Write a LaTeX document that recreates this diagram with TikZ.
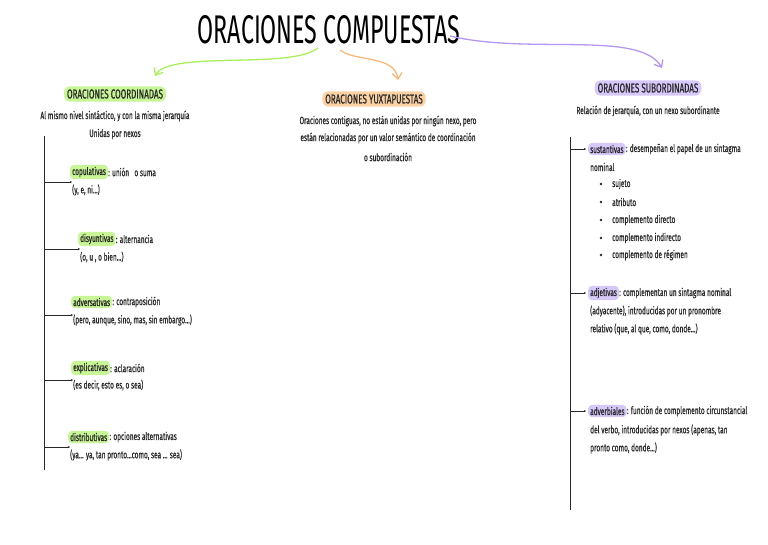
\documentclass[tikz,border=0pt]{standalone}
\usepackage{fontspec}
\setmainfont{Fira Sans}[FakeStretch=0.62,FakeBold=0.6]
\newfontfamily\titlefont{Fira Sans}[FakeStretch=0.58]
\usetikzlibrary{arrows.meta}
\definecolor{hgreen}{RGB}{200,245,150}
\definecolor{horange}{RGB}{252,210,165}
\definecolor{hpurple}{RGB}{215,200,250}
\definecolor{agreen}{RGB}{170,240,90}
\definecolor{aorange}{RGB}{252,185,120}
\definecolor{apurple}{RGB}{180,150,245}
\definecolor{txt}{RGB}{40,40,40}
\tikzset{
 t/.style={anchor=west,inner sep=0pt,font=\fontsize{10.5}{12}\selectfont,text=txt},
 tc/.style={inner sep=0pt,font=\fontsize{10.5}{12}\selectfont,text=txt},
 head/.style={inner sep=3pt,font=\fontsize{13}{14}\selectfont,text=txt,rounded corners=6pt},
 key/.style={t,inner sep=2pt,rounded corners=4pt},
 br/.style={draw=txt,line width=0.6pt},
 brarr/.style={br,-{Stealth[length=2pt,width=2pt]}},
 curv/.style={line width=1.3pt,-{Straight Barb[length=6pt,width=10pt]}},
}
\begin{document}
\begin{tikzpicture}[x=1pt,y=-1pt]
\useasboundingbox (0,0) rectangle (768,544);
\node[inner sep=0pt,font=\titlefont\fontsize{40}{40}\selectfont] (title) at (329,30) {ORACIONES COMPUESTAS};
\node[head,fill=hgreen] (coord) at (115,94) {ORACIONES COORDINADAS};
\node[head,fill=horange] (yuxt) at (374,99) {ORACIONES YUXTAPUESTAS};
\node[head,fill=hpurple] (sub) at (648,88) {ORACIONES SUBORDINADAS};
\coordinate (g0) at (318,48); \coordinate (o0) at (340,50); \coordinate (p0) at (450,36);
\draw[curv,agreen] (g0) .. controls (290,70) and (170,50) .. (155,76);
\draw[curv,aorange] (o0) .. controls (355,62) and (395,55) .. (398,80);
\draw[curv,apurple] (p0) .. controls (530,55) and (640,30) .. (662,68);
% coordinadas
\node[tc] (c1) at (115,116) {Al mismo nivel sintáctico, y con la misma jerarquía};
\node[tc] (c2) at (115,134) {Unidas por nexos};
\coordinate (lt) at (44,136); \coordinate (lb) at (44,470);
\draw[br] (lt) -- (lb);
\foreach \n/\x/\y/\yb/\a/\b in {
 cop/72/172/182/copulativas/{: unión\enspace o suma},
 dis/80/239/249/disyuntivas/{: alternancia},
 adv/73/302/315/adversativas/{: contraposición},
 exp/73/368/380/explicativas/{: aclaración},
 dst/70/437/447/distributivas/{: opciones alternativas}}{
 \node[key,fill=hgreen] (\n k) at (\x-2,\y) {\a};
 \node[t] (\n) at (\n k.east) {\b};
 \coordinate (\n b) at (44,\yb);
 \draw[brarr] (\n b) -- (\x,\yb);
}
\node[t] (cop2) at (72,190) {(y, e, ni...)};
\node[t] (dis2) at (80,257) {(o, u , o bien...)};
\node[t] (adv2) at (73,320) {(pero, aunque, sino, mas, sin embargo...)};
\node[t] (exp2) at (73,385) {(es decir, esto es, o sea)};
\node[t] (dst2) at (70,455) {(ya... ya, tan pronto...como, sea ... sea)};
% yuxtapuestas
\node[tc] (y1) at (388,121) {Oraciones contiguas, no están unidas por ningún nexo, pero};
\node[tc] (y2) at (388,138) {están relacionadas por un valor semántico de coordinación};
\node[tc] (y3) at (388,157) {o subordinación};
% subordinadas
\node[tc] (s0) at (648,111) {Relación de jerarquía, con un nexo subordinante};
\coordinate (rt) at (570,137); \coordinate (rb) at (570,510);
\draw[br] (rt) -- (rb);
\foreach \n/\y/\a/\b in {
 sus/149/sustantivas/{: desempeñan el papel de un sintagma},
 adj/293/adjetivas/{: complementan un sintagma nominal},
 avb/411/adverbiales/{: función de complemento circunstancial}}{
 \node[key,fill=hpurple] (\n k) at (588,\y) {\a};
 \node[t] (\n) at (\n k.east) {\b};
 \coordinate (\n b) at (570,\y);
 \draw[brarr] (\n b) -- (586,\y);
}
\node[t] (sus2) at (590,167) {nominal};
\foreach \n/\y/\s in {b1/184/sujeto,b2/202/atributo,b3/220/complemento directo,b4/238/complemento indirecto,b5/255/complemento de régimen}{
 \fill[txt] (601,\y) circle (1.4);
 \node[t] (\n) at (612,\y) {\s};
}
\node[t] (adj2) at (590,311) {(adyacente), introducidas por un pronombre};
\node[t] (adj3) at (590,329) {relativo (que, al que, como, donde...)};
\node[t] (avb2) at (590,430) {del verbo, introducidas por nexos (apenas, tan};
\node[t] (avb3) at (590,448) {pronto como, donde...)};
\end{tikzpicture}
\end{document}
